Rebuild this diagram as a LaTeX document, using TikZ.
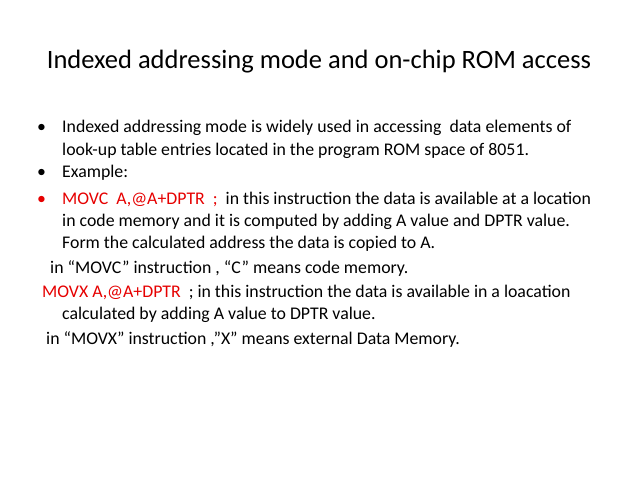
\documentclass[tikz,border=0pt]{standalone}
\usepackage{fontspec}
\setmainfont{Carlito}
\definecolor{myred}{RGB}{230,0,0}
\begin{document}
\begin{tikzpicture}[x=1pt,y=-1pt,
  ln/.style={anchor=base west,inner sep=0pt,font=\fontsize{17.8}{21}\selectfont},
  ttl/.style={anchor=base,inner sep=0pt,font=\fontsize{26.5}{30}\selectfont}]
\useasboundingbox[fill=white] (0,0) rectangle (638,478);
\node[ttl] (t) at (319,69) {Indexed addressing mode and on-chip ROM access};
\node[ln] (b1) at (37,133) {•};
\node[ln] (l1) at (62,133) {Indexed addressing mode is widely used in accessing\ \ data elements of};
\node[ln] (l2) at (62,156) {look-up table entries located in the program ROM space of 8051.};
\node[ln] (b2) at (37,178) {•};
\node[ln] (l3) at (62,178) {Example:};
\node[ln,text=myred] (b3) at (37,205) {•};
\node[ln] (l4) at (62,205) {\textcolor{myred}{MOVC\ \ A,@A+DPTR\ \ ;}\ \ in this instruction the data is available at a location};
\node[ln] (l5) at (62,227) {in code memory and it is computed by adding A value and DPTR value.};
\node[ln] (l6) at (62,249) {Form the calculated address the data is copied to A.};
\node[ln] (l7) at (50,274) {in “MOVC” instruction , “C” means code memory.};
\node[ln] (l8) at (42,298) {\textcolor{myred}{MOVX A,@A+DPTR}\ \ ; in this instruction the data is available in a loacation};
\node[ln] (l9) at (62,320) {calculated by adding A value to DPTR value.};
\node[ln] (l10) at (46,345) {in “MOVX” instruction ,”X” means external Data Memory.};
\end{tikzpicture}
\end{document}
